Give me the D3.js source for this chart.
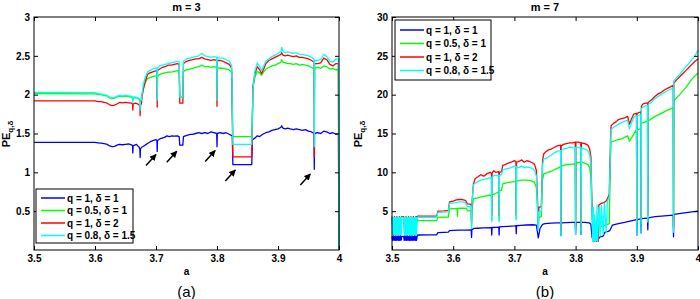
<!DOCTYPE html>
<html>
<head>
<meta charset="utf-8">
<script src="https://cdn.jsdelivr.net/npm/d3@7"></script>
<style>
  body { margin: 0; background: #fff; }
  text { font-family: "Liberation Sans", Arial, sans-serif; }
</style>
</head>
<body>
<div id="chart"></div>
<script>
// legend labels + colours (same for both panels)
const seriesNames = ['q = 1, \u03b4 = 1', 'q = 0.5, \u03b4 = 1', 'q = 1, \u03b4 = 2', 'q = 0.8, \u03b4 = 1.5'];
const seriesColors = ['#0000ff', '#00ff00', '#ff0000', '#00ffff'];

const xTicks = [3.5, 3.6, 3.7, 3.8, 3.9, 4];
const m3YTicks = [0.5, 1, 1.5, 2, 2.5, 3];
const m7YTicks = [5, 10, 15, 20, 25, 30];

// ---- panel (a), m = 3 : [a, PE]
const m3Blue = [[3.500,1.385],[3.600,1.385],[3.605,1.38],[3.610,1.375],[3.615,1.37],[3.620,1.36],[3.624,1.34],[3.628,1.33],[3.632,1.335],[3.636,1.35],[3.640,1.36],[3.645,1.355],[3.650,1.36],[3.655,1.365],[3.660,1.355],[3.6615,1.34],[3.662,1.25],[3.6625,1.34],[3.665,1.35],[3.668,1.36],[3.670,1.34],[3.672,1.33],[3.6735,1.30],[3.674,1.19],[3.6745,1.30],[3.676,1.32],[3.678,1.33],[3.680,1.34],[3.684,1.36],[3.688,1.38],[3.692,1.40],[3.696,1.41],[3.700,1.42],[3.7015,1.41],[3.702,1.27],[3.7025,1.41],[3.706,1.43],[3.710,1.44],[3.714,1.45],[3.718,1.47],[3.722,1.46],[3.726,1.47],[3.730,1.465],[3.735,1.47],[3.738,1.46],[3.739,1.35],[3.744,1.35],[3.745,1.46],[3.748,1.47],[3.752,1.48],[3.756,1.49],[3.760,1.49],[3.765,1.50],[3.770,1.51],[3.775,1.50],[3.780,1.51],[3.785,1.50],[3.790,1.52],[3.795,1.51],[3.7995,1.50],[3.800,1.33],[3.8005,1.50],[3.805,1.51],[3.810,1.50],[3.815,1.51],[3.820,1.49],[3.825,1.47],[3.826,1.10],[3.857,1.10],[3.858,1.42],[3.862,1.44],[3.866,1.47],[3.870,1.46],[3.875,1.49],[3.880,1.51],[3.885,1.52],[3.890,1.54],[3.895,1.55],[3.900,1.56],[3.905,1.58],[3.906,1.60],[3.908,1.57],[3.912,1.56],[3.916,1.57],[3.920,1.56],[3.925,1.55],[3.930,1.56],[3.935,1.55],[3.940,1.54],[3.945,1.55],[3.950,1.53],[3.955,1.52],[3.959,1.50],[3.9595,1.04],[3.960,1.50],[3.965,1.51],[3.970,1.50],[3.975,1.53],[3.980,1.52],[3.985,1.50],[3.990,1.51],[3.995,1.49],[3.999,1.50],[4.000,0]];
const m3Green = [[3.500,2.015],[3.600,2.01],[3.605,2.00],[3.610,2.00],[3.615,1.99],[3.620,1.98],[3.624,1.96],[3.628,1.95],[3.632,1.955],[3.636,1.97],[3.640,1.98],[3.645,1.975],[3.650,1.98],[3.655,1.975],[3.660,1.97],[3.662,1.94],[3.664,1.96],[3.668,1.96],[3.672,1.95],[3.674,1.90],[3.676,1.94],[3.677,2.00],[3.679,2.08],[3.682,2.15],[3.686,2.21],[3.690,2.22],[3.697,2.24],[3.7015,2.24],[3.702,1.95],[3.7025,2.24],[3.706,2.26],[3.710,2.27],[3.715,2.28],[3.720,2.29],[3.725,2.29],[3.730,2.30],[3.735,2.31],[3.738,2.30],[3.739,1.97],[3.744,1.97],[3.745,2.30],[3.750,2.32],[3.755,2.33],[3.760,2.34],[3.765,2.35],[3.770,2.36],[3.775,2.38],[3.780,2.36],[3.785,2.36],[3.790,2.35],[3.795,2.36],[3.7995,2.35],[3.800,1.95],[3.8005,2.35],[3.805,2.34],[3.810,2.34],[3.815,2.33],[3.820,2.32],[3.824,2.28],[3.826,1.46],[3.857,1.46],[3.859,2.10],[3.862,2.22],[3.866,2.30],[3.870,2.28],[3.873,2.25],[3.877,2.30],[3.880,2.33],[3.885,2.35],[3.890,2.37],[3.895,2.38],[3.900,2.40],[3.905,2.42],[3.906,2.45],[3.908,2.42],[3.912,2.41],[3.916,2.40],[3.920,2.40],[3.925,2.39],[3.930,2.40],[3.935,2.38],[3.940,2.39],[3.945,2.38],[3.950,2.37],[3.955,2.35],[3.959,2.33],[3.9595,1.95],[3.960,2.34],[3.965,2.35],[3.970,2.34],[3.975,2.37],[3.980,2.36],[3.985,2.33],[3.990,2.34],[3.995,2.32],[3.999,2.33],[4.000,0]];
const m3Red = [[3.500,1.92],[3.600,1.92],[3.605,1.91],[3.610,1.91],[3.615,1.90],[3.620,1.89],[3.624,1.87],[3.628,1.86],[3.632,1.865],[3.636,1.88],[3.640,1.90],[3.645,1.895],[3.650,1.90],[3.655,1.895],[3.660,1.89],[3.6615,1.88],[3.662,1.80],[3.6625,1.88],[3.666,1.89],[3.670,1.88],[3.6735,1.86],[3.674,1.73],[3.6745,1.86],[3.676,1.88],[3.677,1.96],[3.679,2.06],[3.682,2.16],[3.686,2.26],[3.690,2.28],[3.697,2.30],[3.7015,2.31],[3.702,1.84],[3.7025,2.31],[3.706,2.33],[3.710,2.35],[3.715,2.36],[3.720,2.38],[3.725,2.38],[3.730,2.39],[3.735,2.40],[3.738,2.39],[3.739,1.89],[3.744,1.89],[3.745,2.40],[3.750,2.43],[3.755,2.44],[3.760,2.45],[3.765,2.46],[3.770,2.46],[3.775,2.48],[3.780,2.46],[3.785,2.45],[3.790,2.44],[3.795,2.45],[3.7995,2.44],[3.800,1.85],[3.8005,2.44],[3.805,2.44],[3.810,2.43],[3.815,2.41],[3.820,2.39],[3.824,2.34],[3.826,1.20],[3.857,1.20],[3.859,2.10],[3.862,2.27],[3.866,2.36],[3.870,2.32],[3.873,2.27],[3.877,2.34],[3.880,2.40],[3.885,2.44],[3.890,2.46],[3.895,2.48],[3.900,2.50],[3.905,2.52],[3.906,2.54],[3.908,2.51],[3.912,2.50],[3.916,2.51],[3.920,2.50],[3.925,2.49],[3.930,2.50],[3.935,2.48],[3.940,2.48],[3.945,2.47],[3.950,2.46],[3.955,2.44],[3.959,2.42],[3.9595,1.20],[3.960,2.40],[3.965,2.40],[3.970,2.41],[3.975,2.47],[3.980,2.45],[3.985,2.39],[3.990,2.37],[3.995,2.40],[3.999,2.40],[4.000,0]];
const m3Cyan = [[3.500,2.03],[3.600,2.025],[3.605,2.01],[3.610,2.01],[3.615,2.00],[3.620,1.99],[3.624,1.97],[3.628,1.96],[3.632,1.965],[3.636,1.98],[3.640,1.99],[3.645,1.985],[3.650,1.99],[3.655,1.985],[3.660,1.98],[3.6615,1.97],[3.662,1.90],[3.6625,1.97],[3.666,1.97],[3.670,1.96],[3.6735,1.94],[3.674,1.80],[3.6745,1.93],[3.676,1.93],[3.677,2.00],[3.679,2.12],[3.682,2.22],[3.686,2.29],[3.690,2.31],[3.697,2.34],[3.7015,2.34],[3.702,1.93],[3.7025,2.34],[3.706,2.37],[3.710,2.38],[3.715,2.39],[3.720,2.40],[3.725,2.41],[3.730,2.42],[3.735,2.43],[3.738,2.42],[3.739,1.97],[3.744,1.97],[3.745,2.43],[3.750,2.46],[3.755,2.47],[3.760,2.48],[3.765,2.49],[3.770,2.50],[3.775,2.53],[3.780,2.50],[3.785,2.49],[3.790,2.48],[3.795,2.49],[3.7995,2.48],[3.800,1.93],[3.8005,2.48],[3.805,2.47],[3.810,2.47],[3.815,2.45],[3.820,2.43],[3.824,2.38],[3.826,1.36],[3.857,1.36],[3.859,2.06],[3.862,2.30],[3.866,2.41],[3.870,2.36],[3.873,2.31],[3.877,2.38],[3.880,2.43],[3.885,2.46],[3.890,2.49],[3.895,2.51],[3.900,2.53],[3.905,2.56],[3.906,2.61],[3.908,2.56],[3.912,2.54],[3.916,2.55],[3.920,2.54],[3.925,2.53],[3.930,2.54],[3.935,2.52],[3.940,2.52],[3.945,2.51],[3.950,2.50],[3.955,2.48],[3.959,2.46],[3.9595,1.33],[3.960,2.44],[3.965,2.44],[3.970,2.45],[3.975,2.52],[3.980,2.49],[3.985,2.43],[3.990,2.42],[3.995,2.46],[3.999,2.46],[4.000,0]];

// arrows in panel (a): tip position [a, PE]
const m3Arrows = [[3.700,1.23],[3.734,1.27],[3.797,1.28],[3.830,1.03],[3.953,0.98]];

// ---- panel (b), m = 7 : [a, PE]
const m7Blue = [[3.500,1.75],[3.501,1.25],[3.502,1.74],[3.503,1.26],[3.504,1.75],[3.505,1.25],[3.506,1.74],[3.507,1.25],[3.508,1.75],[3.509,1.26],[3.510,1.75],[3.511,1.25],[3.512,1.74],[3.513,1.25],[3.514,1.75],[3.515,1.26],[3.516,1.75],[3.519,1.75],[3.520,1.25],[3.521,1.74],[3.522,1.26],[3.523,1.75],[3.524,1.25],[3.525,1.75],[3.526,1.26],[3.527,1.74],[3.528,1.25],[3.529,1.75],[3.530,1.25],[3.531,1.74],[3.532,1.26],[3.533,1.75],[3.534,1.25],[3.535,1.75],[3.536,1.26],[3.537,1.74],[3.538,1.25],[3.539,1.75],[3.540,1.25],[3.541,1.75],
  [3.542,1.93],[3.560,1.94],[3.573,1.95],[3.575,2.25],[3.585,2.28],[3.592,2.30],[3.594,2.50],[3.600,2.52],[3.610,2.55],[3.620,2.57],[3.6295,2.58],[3.630,1.62],[3.6305,2.60],[3.634,2.78],[3.640,2.80],[3.650,2.85],[3.6625,2.88],[3.663,1.92],[3.6635,2.90],[3.670,2.92],[3.6745,2.95],[3.675,1.92],[3.6755,2.96],[3.680,3.00],[3.690,3.05],[3.700,3.10],[3.7025,3.12],[3.703,2.10],[3.7035,3.12],[3.710,3.18],[3.720,3.22],[3.730,3.25],[3.736,3.20],[3.739,1.55],[3.742,2.80],[3.746,3.30],[3.750,3.40],[3.760,3.45],[3.770,3.48],[3.7755,3.50],[3.776,1.90],[3.7765,3.50],[3.785,3.52],[3.795,3.55],[3.7995,3.55],[3.800,2.00],[3.8005,3.55],[3.8085,3.55],[3.809,2.00],[3.8095,3.55],[3.815,3.56],[3.822,3.50],[3.825,3.30],[3.827,1.60],[3.830,1.30],[3.837,1.40],[3.840,1.70],[3.845,1.80],[3.848,2.30],[3.853,2.40],[3.856,2.50],[3.860,3.20],[3.870,3.40],[3.880,3.55],[3.8995,3.90],[3.900,1.90],[3.9005,3.90],[3.9065,4.00],[3.907,2.20],[3.9075,4.05],[3.9175,4.10],[3.918,2.60],[3.9185,4.15],[3.930,4.30],[3.945,4.40],[3.9595,4.50],[3.960,1.70],[3.9605,4.60],[3.975,4.75],[3.990,4.90],[4.000,5.00]];
const m7Green = [[3.500,4.25],[3.503,1.90],[3.507,4.25],[3.511,1.90],[3.515,4.25],[3.519,4.25],[3.523,1.90],[3.527,4.25],[3.531,1.90],[3.535,4.25],[3.539,1.90],[3.541,4.25],
  [3.542,3.77],[3.573,3.78],[3.575,4.20],[3.592,4.25],[3.594,5.30],[3.6065,5.35],[3.607,4.35],[3.6075,5.35],[3.615,5.40],[3.622,5.35],[3.623,5.05],[3.6295,5.05],[3.630,3.0],[3.6305,5.1],[3.633,6.6],[3.640,6.7],[3.650,6.9],[3.660,7.05],[3.6625,7.0],[3.663,3.8],[3.6635,7.1],[3.670,7.3],[3.6745,7.5],[3.675,3.8],[3.6755,7.6],[3.679,7.7],[3.681,8.5],[3.690,8.7],[3.700,8.8],[3.7025,8.85],[3.703,4.0],[3.7035,8.9],[3.712,9.0],[3.720,9.0],[3.728,8.9],[3.733,8.7],[3.736,8.0],[3.738,5.0],[3.739,2.8],[3.740,4.2],[3.744,4.3],[3.746,9.0],[3.748,9.8],[3.755,10.0],[3.762,10.2],[3.770,10.5],[3.7755,10.7],[3.776,2.2],[3.7765,10.8],[3.785,11.0],[3.7995,11.1],[3.800,2.5],[3.8005,11.2],[3.8085,11.3],[3.809,2.5],[3.8095,11.3],[3.815,11.2],[3.820,11.0],[3.823,10.6],[3.825,9.5],[3.827,4.0],[3.830,1.5],[3.837,1.6],[3.838,3.0],[3.845,3.1],[3.850,3.2],[3.855,3.4],[3.857,12.0],[3.858,13.9],[3.865,14.1],[3.875,14.3],[3.885,14.7],[3.888,14.0],[3.892,14.5],[3.8995,15.5],[3.900,3.5],[3.9005,15.5],[3.9065,15.6],[3.907,3.5],[3.9075,16.3],[3.9175,16.6],[3.918,3.8],[3.9185,16.6],[3.930,17.2],[3.940,17.6],[3.950,18.0],[3.9595,18.3],[3.960,2.8],[3.9605,19.2],[3.970,20.0],[3.980,20.9],[3.990,22.0],[4.000,22.8]];
const m7Red = [[3.500,4.30],[3.502,1.85],[3.504,4.31],[3.506,1.85],[3.508,4.30],[3.510,1.86],[3.512,4.30],[3.514,1.85],[3.516,4.30],[3.519,4.30],[3.521,1.85],[3.523,4.31],[3.525,1.86],[3.527,4.30],[3.529,1.85],[3.531,4.30],[3.533,1.85],[3.535,4.31],[3.537,1.86],[3.539,4.30],[3.541,4.32],
  [3.542,4.35],[3.560,4.36],[3.573,4.36],[3.575,5.00],[3.585,5.05],[3.592,5.10],[3.594,6.20],[3.600,6.30],[3.605,6.45],[3.610,6.50],[3.615,6.50],[3.620,6.40],[3.623,5.95],[3.628,5.90],[3.6295,5.80],[3.630,3.5],[3.6305,5.9],[3.633,8.5],[3.636,9.2],[3.640,9.4],[3.645,9.7],[3.650,9.5],[3.655,9.8],[3.660,10.0],[3.6625,9.9],[3.663,4.5],[3.6635,9.9],[3.666,10.2],[3.670,10.0],[3.6745,10.1],[3.675,4.5],[3.6755,10.0],[3.679,10.1],[3.681,10.9],[3.685,11.0],[3.690,11.2],[3.695,11.3],[3.700,11.5],[3.7025,11.4],[3.703,4.5],[3.7035,11.3],[3.707,11.4],[3.712,11.6],[3.716,11.3],[3.720,11.5],[3.725,11.4],[3.730,11.2],[3.733,11.0],[3.736,10.2],[3.738,6.0],[3.739,3.0],[3.740,5.5],[3.744,5.6],[3.746,11.5],[3.748,12.4],[3.752,12.7],[3.756,12.9],[3.760,13.0],[3.765,13.2],[3.770,13.4],[3.7755,13.5],[3.776,2.5],[3.7765,13.4],[3.780,13.6],[3.785,13.7],[3.790,13.8],[3.795,13.8],[3.7995,13.9],[3.800,3.0],[3.8005,13.9],[3.805,13.9],[3.8085,13.8],[3.809,3.0],[3.8095,13.8],[3.815,13.7],[3.820,13.5],[3.823,13.0],[3.825,12.0],[3.827,5.0],[3.830,1.1],[3.832,3.5],[3.834,1.1],[3.837,1.1],[3.838,5.8],[3.842,6.0],[3.846,6.1],[3.850,6.3],[3.853,6.8],[3.855,7.2],[3.857,14.0],[3.858,16.0],[3.862,16.3],[3.866,16.5],[3.870,16.8],[3.875,16.9],[3.880,17.0],[3.885,17.2],[3.888,16.2],[3.891,16.8],[3.895,17.5],[3.8995,17.6],[3.900,4.0],[3.9005,17.6],[3.9065,17.8],[3.907,4.0],[3.9075,18.5],[3.910,18.8],[3.915,18.9],[3.9175,18.9],[3.918,4.5],[3.9185,19.0],[3.925,19.4],[3.930,19.8],[3.935,20.1],[3.940,20.3],[3.945,20.6],[3.950,20.8],[3.955,21.0],[3.9595,21.2],[3.960,3.0],[3.9605,21.5],[3.965,21.9],[3.970,22.3],[3.975,22.7],[3.980,23.1],[3.985,23.5],[3.990,23.9],[3.995,24.3],[4.000,24.6]];
const m7Cyan = [[3.500,4.20],[3.501,1.95],[3.502,4.18],[3.503,1.96],[3.504,4.21],[3.505,1.95],[3.506,4.19],[3.507,1.97],[3.508,4.20],[3.509,1.95],[3.510,4.18],[3.511,1.96],[3.512,4.21],[3.513,1.95],[3.514,4.20],[3.515,1.96],[3.516,4.20],[3.519,4.20],[3.520,1.95],[3.521,4.19],[3.522,1.96],[3.523,4.21],[3.524,1.95],[3.525,4.18],[3.526,1.97],[3.527,4.20],[3.528,1.95],[3.529,4.21],[3.530,1.96],[3.531,4.19],[3.532,1.95],[3.533,4.20],[3.534,1.96],[3.535,4.18],[3.536,1.95],[3.537,4.21],[3.538,1.96],[3.539,4.20],[3.540,1.95],[3.541,4.20],
  [3.542,4.22],[3.573,4.22],[3.575,4.85],[3.592,4.90],[3.594,6.00],[3.605,6.10],[3.610,6.20],[3.615,6.20],[3.620,6.10],[3.623,5.60],[3.6295,5.55],[3.630,2.78],[3.6305,5.6],[3.633,8.4],[3.636,8.6],[3.640,8.8],[3.645,9.0],[3.650,9.1],[3.655,9.2],[3.660,9.3],[3.6625,9.3],[3.663,3.65],[3.6635,9.4],[3.667,9.6],[3.670,9.6],[3.6745,9.6],[3.675,3.65],[3.6755,9.6],[3.679,9.7],[3.681,10.3],[3.685,10.4],[3.690,10.5],[3.695,10.6],[3.700,10.8],[3.7025,10.8],[3.703,3.85],[3.7035,10.7],[3.707,10.6],[3.712,10.8],[3.716,10.6],[3.720,10.7],[3.725,10.6],[3.730,10.5],[3.733,10.2],[3.736,9.5],[3.738,5.0],[3.739,2.56],[3.740,4.9],[3.744,5.0],[3.746,11.0],[3.748,11.7],[3.752,11.8],[3.756,12.0],[3.760,12.2],[3.765,12.5],[3.770,12.7],[3.7755,12.8],[3.776,1.8],[3.7765,12.8],[3.780,13.0],[3.785,13.1],[3.790,13.2],[3.795,13.2],[3.7995,13.2],[3.800,2.0],[3.8005,13.2],[3.805,13.2],[3.8085,13.2],[3.809,2.0],[3.8095,13.1],[3.815,13.0],[3.820,12.8],[3.823,12.3],[3.825,11.0],[3.827,4.0],[3.828,1.1],[3.829,5.5],[3.830,1.2],[3.831,4.5],[3.832,1.1],[3.833,3.6],[3.834,1.2],[3.835,5.8],[3.836,1.1],[3.837,3.0],[3.838,5.5],[3.840,1.8],[3.842,5.8],[3.845,2.0],[3.847,6.0],[3.850,2.2],[3.852,6.3],[3.855,6.8],[3.857,13.0],[3.858,15.5],[3.862,15.8],[3.866,16.0],[3.870,16.2],[3.875,16.4],[3.880,16.6],[3.885,16.7],[3.888,15.6],[3.891,16.3],[3.895,17.1],[3.8995,17.3],[3.900,1.9],[3.9005,17.3],[3.9065,17.4],[3.907,2.2],[3.9075,18.2],[3.910,18.4],[3.915,18.6],[3.9175,18.6],[3.918,3.6],[3.9185,18.7],[3.925,19.1],[3.930,19.5],[3.935,19.8],[3.940,20.0],[3.945,20.3],[3.950,20.5],[3.955,20.7],[3.9595,20.8],[3.960,2.3],[3.9605,21.8],[3.965,22.2],[3.970,22.6],[3.975,23.1],[3.980,23.6],[3.985,24.0],[3.990,24.5],[3.995,25.0],[4.000,25.7]];

const width = 700;
const height = 299;

const svg = d3.select('#chart')
  .append('svg')
  .attr('width', width)
  .attr('height', height);

svg.append('defs').append('marker')
  .attr('id', 'arrowhead')
  .attr('viewBox', '0 0 10 10')
  .attr('refX', 9).attr('refY', 5)
  .attr('markerWidth', 4.5).attr('markerHeight', 4.5)
  .attr('orient', 'auto')
  .append('path')
  .attr('d', 'M0,0L10,5L0,10Z')
  .attr('fill', '#000');

function drawPanel(p) {
  const x = d3.scaleLinear().domain([3.5, 4]).range([p.left, p.right]);
  const y = d3.scaleLinear().domain([0, p.yMax]).range([250, 17]);
  const g = svg.append('g');
  const fmt = d => String(+d.toFixed(2));

  g.append('rect')
    .attr('x', p.left).attr('y', 17)
    .attr('width', p.right - p.left).attr('height', 233)
    .attr('fill', '#fff');

  // data lines
  const line = d3.line().x(d => x(d[0])).y(d => y(d[1]));
  p.series.forEach((s, i) => {
    g.append('path')
      .datum(s)
      .attr('d', line)
      .attr('fill', 'none')
      .attr('stroke', seriesColors[i])
      .attr('stroke-width', 1.3)
      .attr('stroke-linejoin', 'round');
  });

  // axes, inward ticks on all four sides
  const bottom = g.append('g').attr('transform', 'translate(0,250)')
    .call(d3.axisBottom(x).tickValues(xTicks).tickFormat(fmt).tickSize(-4).tickPadding(5));
  const top = g.append('g').attr('transform', 'translate(0,17)')
    .call(d3.axisTop(x).tickValues(xTicks).tickFormat('').tickSize(-4));
  const left = g.append('g').attr('transform', 'translate(' + p.left + ',0)')
    .call(d3.axisLeft(y).tickValues(p.yTicks).tickFormat(fmt).tickSize(-4).tickPadding(4));
  const right = g.append('g').attr('transform', 'translate(' + p.right + ',0)')
    .call(d3.axisRight(y).tickValues(p.yTicks).tickFormat('').tickSize(-4));
  [bottom, top, left, right].forEach(a => {
    a.select('.domain').remove();
    a.selectAll('line').attr('stroke', '#000');
    a.selectAll('text')
      .attr('fill', '#000')
      .style('font-size', '10px')
      .style('font-weight', 'bold');
  });

  g.append('rect')
    .attr('x', p.left).attr('y', 17)
    .attr('width', p.right - p.left).attr('height', 233)
    .attr('fill', 'none').attr('stroke', '#000').attr('stroke-width', 1);

  const cx = (p.left + p.right) / 2;
  g.append('text').attr('x', cx).attr('y', 11)
    .attr('text-anchor', 'middle')
    .style('font-size', '11px').style('font-weight', 'bold')
    .text(p.title);
  g.append('text').attr('x', cx).attr('y', 275)
    .attr('text-anchor', 'middle')
    .style('font-size', '10px').style('font-weight', 'bold')
    .text('a');
  g.append('text').attr('x', cx).attr('y', 297)
    .attr('text-anchor', 'middle')
    .style('font-size', '15px')
    .text(p.caption);

  const yl = g.append('text')
    .attr('transform', 'translate(' + p.yLabelX + ',134) rotate(-90)')
    .attr('text-anchor', 'middle')
    .style('font-size', '11px').style('font-weight', 'bold');
  yl.append('tspan').text('PE');
  yl.append('tspan').attr('dy', 3).style('font-size', '8px').text('q,\u03b4');

  // legend
  const lg = g.append('g');
  lg.append('rect')
    .attr('x', p.legend.x).attr('y', p.legend.y)
    .attr('width', p.legend.w).attr('height', p.legend.h)
    .attr('fill', '#fff').attr('stroke', '#000').attr('stroke-width', 1);
  seriesNames.forEach((name, i) => {
    const ly = p.legend.y + p.legend.first + i * p.legend.step;
    lg.append('line')
      .attr('x1', p.legend.x + 5).attr('x2', p.legend.x + p.legend.lineW)
      .attr('y1', ly).attr('y2', ly)
      .attr('stroke', seriesColors[i]).attr('stroke-width', 1.5);
    lg.append('text')
      .attr('x', p.legend.x + p.legend.lineW + 2).attr('y', ly + 3.5)
      .style('font-size', '10px').style('font-weight', 'bold')
      .text(name);
  });

  // arrows (panel a only)
  (p.arrows || []).forEach(d => {
    g.append('line')
      .attr('x1', x(d[0]) - 10).attr('y1', y(d[1]) + 11)
      .attr('x2', x(d[0])).attr('y2', y(d[1]))
      .attr('stroke', '#000').attr('stroke-width', 1.5)
      .attr('marker-end', 'url(#arrowhead)');
  });
}

drawPanel({
  left: 34, right: 339, yMax: 3, yTicks: m3YTicks,
  series: [m3Blue, m3Green, m3Red, m3Cyan],
  title: 'm = 3', caption: '(a)', yLabelX: 10,
  legend: { x: 36, y: 189, w: 97, h: 54, first: 9, step: 12.5, lineW: 29 },
  arrows: m3Arrows
});

drawPanel({
  left: 392, right: 698, yMax: 30, yTicks: m7YTicks,
  series: [m7Blue, m7Green, m7Red, m7Cyan],
  title: 'm = 7', caption: '(b)', yLabelX: 362,
  legend: { x: 395, y: 20, w: 96, h: 60, first: 10, step: 13.5, lineW: 29 }
});
</script>
</body>
</html>
